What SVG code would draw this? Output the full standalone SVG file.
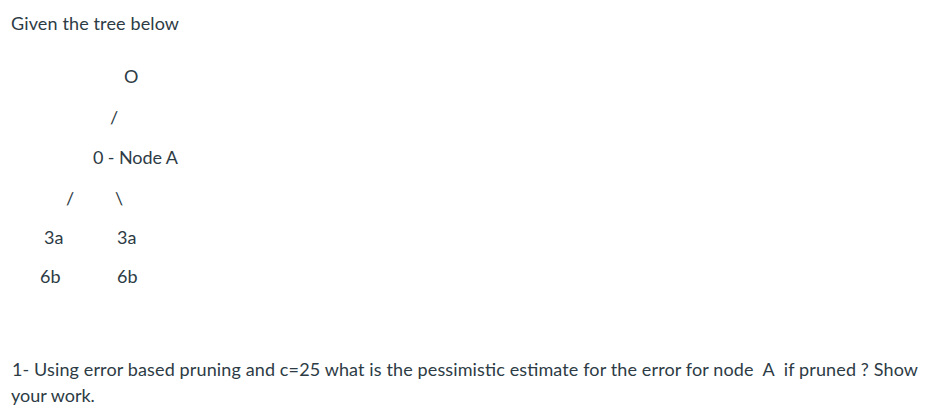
<svg xmlns="http://www.w3.org/2000/svg" width="935" height="416" viewBox="0 0 935 416">
<style>
text { font-family: Lato, "Liberation Sans", sans-serif; font-size: 18px; fill: #2d3b45; white-space: pre; }
</style>
<rect width="935" height="416" fill="#ffffff"/>
<text x="11" y="30" textLength="168">Given the tree below</text>
<g id="tree">
<text x="124" y="83">O</text>
<text x="110" y="124">/</text>
<text x="93" y="164" textLength="85">0 - Node A</text>
<text x="66" y="205">/</text>
<text x="115" y="205">\</text>
<text x="44" y="244">3a</text>
<text x="117" y="244">3a</text>
<text x="40" y="283">6b</text>
<text x="117" y="283">6b</text>
</g>
<text x="12" y="376" textLength="906">1- Using error based pruning and c=25 what is the pessimistic estimate for the error for node  A  if pruned ? Show</text>
<text x="11" y="402">your work.</text>
</svg>
